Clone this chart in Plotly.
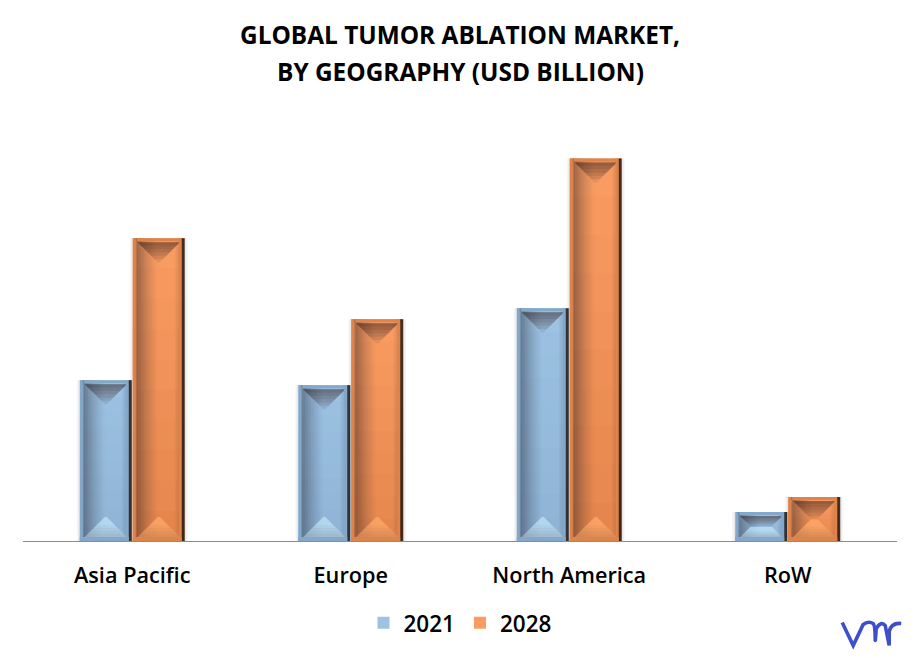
import plotly.graph_objects as go

categories = ["Asia Pacific", "Europe", "North America", "RoW"]
values_2021 = [1.61, 1.56, 2.33, 0.29]
values_2028 = [3.03, 2.22, 3.83, 0.44]
series_names = ["2021", "2028"]
title_lines = ["GLOBAL TUMOR ABLATION MARKET,", "BY GEOGRAPHY (USD BILLION)"]

FONT = "Open Sans"
L, R, T, B = 22.75, 23.25, 120, 116.5
W = 920 - L - R
H = 658 - T - B
YMAX = 4.215
BAR_PX = 52
CAT_PX = W / 4


def add_bar_details(shapes, index, side, value, hi, lo, ink):
    """Bevel built on top of a bar; anchored to the axes through the bar's value."""
    xa = index + side * (BAR_PX / 2 + 0.5) / CAT_PX
    hw = BAR_PX / 2
    px = value * 100
    iw = hw - 5
    mitre = min(iw - 1, (px - 9) / 2)

    def strip(x0, x1, color, layer="above"):
        shapes.append(dict(type="rect", xref="x", yref="y", xsizemode="pixel", xanchor=xa,
                           x0=x0, x1=x1, y0=0, y1=value, fillcolor=color,
                           line_width=0, layer=layer))

    def poly(points, anchor, color):
        path = "M" + " L".join(f"{x},{y}" for x, y in points) + " Z"
        shapes.append(dict(type="path", xref="x", yref="y", xsizemode="pixel", ysizemode="pixel",
                           xanchor=xa, yanchor=anchor, path=path, fillcolor=color, line_width=0,
                           layer="above"))

    # soft shadow around the bar
    for i, a in enumerate((0.04, 0.08, 0.13)):
        strip(-hw - 3 + i, -hw - 2 + i, f"rgba(60,60,60,{a})", "below")
        strip(hw + 2 - i, hw + 3 - i, f"rgba(60,60,60,{a})", "below")

    # vertical shading of the face, darker toward the base
    n = 10
    for k in range(n):
        a = (0.20 if ink == "warm" else 0.09) * (1 - k / (n - 1))
        shapes.append(dict(type="rect", xref="x", yref="y", xsizemode="pixel", xanchor=xa,
                           x0=-hw, x1=hw, y0=value * k / n, y1=value * (k + 1) / n,
                           fillcolor=f"rgba(150,50,0,{a:.3f})" if ink == "warm"
                           else f"rgba(10,40,90,{a:.3f})",
                           line_width=0, layer="above"))

    # horizontal shading, dark on the left of the face
    for k in range(14):
        a = 0.40 * (1 - k / 14) ** 1.4
        strip(-hw + 4 + k * 1.5, -hw + 5.5 + k * 1.5, f"rgba(20,20,30,{a:.3f})")
    for k in range(6):
        a = 0.14 * (k + 1) / 6
        strip(hw - 10 + k * 1.0, hw - 9 + k * 1.0, f"rgba(20,20,30,{a:.3f})")

    # top mitre: nested trapezoids fading downward
    for k in range(6):
        d = mitre * (1 - k / 6)
        poly([(-iw, -4), (iw, -4), (iw - d, -4 - d), (-iw + d, -4 - d)],
             value, "rgba(45,30,25,0.10)")
    poly([(-hw, 0), (hw, 0), (hw - 3, -3), (-hw + 3, -3)], value, lo)

    # bright mitre at the bottom, duller toward the base
    poly([(-iw, 4), (iw, 4), (iw - mitre, 4 + mitre), (-iw + mitre, 4 + mitre)], 0, hi)
    for k in range(4):
        d = mitre * (1 - k / 4) * 0.6
        poly([(-iw, 4), (iw, 4), (iw - d, 4 + d), (-iw + d, 4 + d)], 0, "rgba(60,40,40,0.035)")

    # frame
    strip(-hw, -hw + 3, lo)
    strip(-hw + 3, -hw + 4, "rgba(40,30,30,0.30)")
    strip(hw - 6, hw - 3, lo)
    strip(hw - 3, hw, "rgba(25,15,10,0.80)")
    poly([(-hw, 4), (hw - 3, 4), (hw - 3, 0), (-hw, 0)], 0, lo)


fig = go.Figure()
fig.add_bar(name=series_names[0], x=categories, y=values_2021,
            marker=dict(color="#9DC2E2", line_width=0))
fig.add_bar(name=series_names[1], x=categories, y=values_2028,
            marker=dict(color="#F99C62", line_width=0))

shapes = []
for i in range(len(categories)):
    add_bar_details(shapes, i, -1, values_2021[i], "rgba(200,236,255,0.62)", "#84A8CA", "cool")
    add_bar_details(shapes, i, 1, values_2028[i], "rgba(255,170,105,0.75)", "#DE8349", "warm")

# brand mark at the lower right, anchored to the plot corner
logo_x = lambda px: round(px - (920 - R), 1)
logo_y = lambda py: round((658 - B) - py, 1)
logo = [(842, 623), (853, 646), (863, 625)]
d = "M" + " L".join(f"{logo_x(x)},{logo_y(y)}" for x, y in logo)
d += f" Q{logo_x(868)},{logo_y(621)} {logo_x(873)},{logo_y(624)} Q{logo_x(875)},{logo_y(626)} {logo_x(875)},{logo_y(640)}"
d += f" Q{logo_x(875)},{logo_y(644)} {logo_x(876)},{logo_y(629)} Q{logo_x(881)},{logo_y(621)} {logo_x(885)},{logo_y(626)} L{logo_x(889)},{logo_y(646)}"
d += f" L{logo_x(889)},{logo_y(632)} Q{logo_x(891)},{logo_y(623)} {logo_x(901)},{logo_y(624)}"
shapes.append(dict(type="path", xref="paper", yref="paper", xsizemode="pixel", ysizemode="pixel",
                   xanchor=1, yanchor=0, path=d, line=dict(color="#3D50C9", width=3.6),
                   fillcolor="rgba(0,0,0,0)", layer="above"))

fig.update_layout(
    width=920, height=658,
    margin=dict(l=L, r=R, t=T, b=B, pad=0),
    paper_bgcolor="white", plot_bgcolor="white",
    barmode="group", bargap=0.52, bargroupgap=0.02,
    font=dict(family=FONT, color="#000000", size=21),
    title=dict(text=f"<b>{title_lines[0]}</b>", x=0.5, xanchor="center",
               y=1 - 35 / 658, yanchor="middle",
               font=dict(family=FONT, size=24.4, color="#000000")),
    annotations=[dict(text=f"<b>{title_lines[1]}</b>", xref="paper", yref="paper",
                      x=0.5, xanchor="center", yanchor="middle", showarrow=False,
                      y=(658 - B - 71) / H,
                      font=dict(family=FONT, size=24.4, color="#000000"))],
    xaxis=dict(type="category", showgrid=False, showline=True, linecolor="#8c8c8c", linewidth=1,
               ticks="outside", ticklen=15, tickcolor="rgba(0,0,0,0)",
               tickfont=dict(size=21.7, family=FONT, color="#000000", weight=600)),
    yaxis=dict(range=[0, YMAX], visible=False, showgrid=False),
    legend=dict(orientation="h", x=0.5, xanchor="center", y=-0.195, yanchor="middle",
                font=dict(size=22.5, family=FONT, color="#000000", weight=600), itemwidth=30),
    shapes=shapes,
    showlegend=True,
)

fig.write_html("out.html", config={"displayModeBar": False},
               post_script="document.body.style.margin='0';")
